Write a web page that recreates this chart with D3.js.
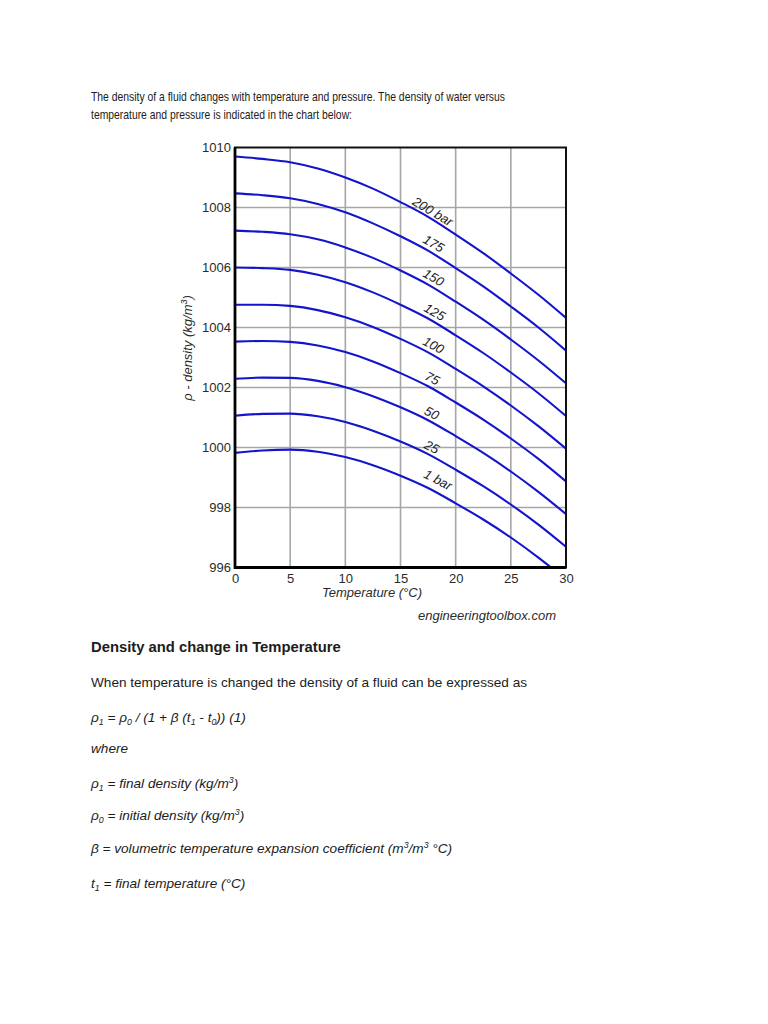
<!DOCTYPE html>
<html>
<head>
<meta charset="utf-8">
<script src="https://cdn.jsdelivr.net/npm/d3@7"></script>
<style>
  html, body { margin: 0; padding: 0; background: #fff; }
  svg { display: block; }
</style>
</head>
<body>
<svg id="page" width="768" height="1024"></svg>
<script>
// ---------- data ----------
const temps = [0, 2.5, 5, 7.5, 10, 12.5, 15, 17.5, 20, 22.5, 25, 27.5, 30];
const rho200 = [1009.70, 1009.62, 1009.51, 1009.30, 1009.00, 1008.63, 1008.18, 1007.69, 1007.10, 1006.48, 1005.80, 1005.09, 1004.32];
const rho175 = [1008.47, 1008.41, 1008.31, 1008.12, 1007.84, 1007.47, 1007.04, 1006.56, 1005.98, 1005.37, 1004.70, 1004.00, 1003.23];
const rho150 = [1007.23, 1007.19, 1007.11, 1006.94, 1006.67, 1006.32, 1005.90, 1005.43, 1004.86, 1004.26, 1003.60, 1002.90, 1002.14];
const rho125 = [1006.00, 1005.98, 1005.92, 1005.76, 1005.51, 1005.17, 1004.76, 1004.30, 1003.74, 1003.15, 1002.50, 1001.81, 1001.05];
const rho100 = [1004.76, 1004.76, 1004.72, 1004.58, 1004.34, 1004.02, 1003.62, 1003.17, 1002.62, 1002.04, 1001.40, 1000.71, 999.96];
const rho75  = [1003.53, 1003.55, 1003.52, 1003.40, 1003.18, 1002.87, 1002.48, 1002.04, 1001.50, 1000.93, 1000.30, 999.62, 998.87];
const rho50  = [1002.29, 1002.33, 1002.32, 1002.22, 1002.01, 1001.71, 1001.34, 1000.91, 1000.38, 999.82, 999.20, 998.52, 997.78];
const rho25  = [1001.06, 1001.12, 1001.13, 1001.04, 1000.85, 1000.56, 1000.20, 999.78, 999.26, 998.71, 998.10, 997.43, 996.69];
const rho1   = [999.82, 999.90, 999.93, 999.86, 999.68, 999.41, 999.06, 998.65, 998.14, 997.60, 997.00, 996.33, 995.60];
const seriesLabels = ["200 bar", "175", "150", "125", "100", "75", "50", "25", "1 bar"];
const seriesValues = [rho200, rho175, rho150, rho125, rho100, rho75, rho50, rho25, rho1];
const xTickValues = [0, 5, 10, 15, 20, 25, 30];
const yTickValues = [996, 998, 1000, 1002, 1004, 1006, 1008, 1010];

// ---------- layout ----------
const svg = d3.select("#page");
svg.append("rect").attr("width", 768).attr("height", 1024).attr("fill", "#fff");

const x = d3.scaleLinear().domain([0, 30]).range([235, 566]);
const y = d3.scaleLinear().domain([996, 1010]).range([567.5, 147.5]);
const [x0, x1] = x.range();
const [y0, y1] = [y(1010), y(996)];

const chartFont = "'Liberation Sans', Arial, Helvetica, sans-serif";
const ink = "#2b2b2b";

// grid
const grid = svg.append("g").attr("stroke", "#a6a6a6").attr("stroke-width", 1.6);
grid.selectAll("line.v").data(xTickValues.filter(d => d > 0 && d < 30)).join("line")
  .attr("x1", d => x(d)).attr("x2", d => x(d)).attr("y1", y0).attr("y2", y1);
grid.selectAll("line.h").data(yTickValues.filter(d => d > 996 && d < 1010)).join("line")
  .attr("y1", d => y(d)).attr("y2", d => y(d)).attr("x1", x0).attr("x2", x1);

// clip
svg.append("clipPath").attr("id", "plotclip").append("rect")
  .attr("x", x0).attr("y", y0).attr("width", x1 - x0).attr("height", y1 - y0);

// curves
const line = d3.line().x(d => x(d[0])).y(d => y(d[1])).curve(d3.curveMonotoneX);
svg.append("g").attr("clip-path", "url(#plotclip)")
  .selectAll("path").data(seriesValues).join("path")
  .attr("d", vals => line(temps.map((t, i) => [t, vals[i]])))
  .attr("fill", "none").attr("stroke", "#1414cc").attr("stroke-width", 2.1)
  .attr("stroke-linejoin", "round");

// frame
svg.append("rect").attr("x", x0).attr("y", y0).attr("width", x1 - x0).attr("height", y1 - y0)
  .attr("fill", "none").attr("stroke", "#111").attr("stroke-width", 2);
svg.append("path").attr("d", `M${x0},${y0}V${y1}H${x1}`).attr("fill", "none")
  .attr("stroke", "#000").attr("stroke-width", 2.8);

// axes tick labels via d3 axes
const yAxis = d3.axisLeft(y).tickValues(yTickValues).tickSize(0).tickPadding(4).tickFormat(d3.format("d"));
const gy = svg.append("g").attr("transform", `translate(${x0},0)`).call(yAxis);
const xAxis = d3.axisBottom(x).tickValues(xTickValues).tickSize(0).tickPadding(6).tickFormat(d3.format("d"));
const gx = svg.append("g").attr("transform", `translate(0,${y1})`).call(xAxis);
[gx, gy].forEach(g => {
  g.select(".domain").remove();
  g.attr("font-family", chartFont).attr("font-size", 13);
  g.selectAll("text").attr("font-family", chartFont).attr("font-size", 13).attr("fill", ink);
});

// axis titles
svg.append("text").attr("x", 372).attr("y", 597).attr("text-anchor", "middle")
  .attr("font-family", chartFont).attr("font-size", 13).attr("font-style", "italic").attr("fill", ink)
  .text("Temperature (°C)");
svg.append("text").attr("x", 487).attr("y", 620).attr("text-anchor", "middle")
  .attr("font-family", chartFont).attr("font-size", 13).attr("font-style", "italic").attr("fill", ink)
  .text("engineeringtoolbox.com");
const yt = svg.append("text").attr("transform", "translate(192,348) rotate(-90)").attr("text-anchor", "middle")
  .attr("font-family", chartFont).attr("font-size", 13).attr("font-style", "italic").attr("fill", ink);
yt.append("tspan").text("ρ - density (kg/m");
yt.append("tspan").attr("font-size", 9).attr("dy", -5).text("3");
yt.append("tspan").attr("dy", 5).text(")");

// curve labels
function valueAt(vals, t) {
  const i = Math.min(Math.max(d3.bisectRight(temps, t) - 1, 0), temps.length - 2);
  const f = (t - temps[i]) / (temps[i + 1] - temps[i]);
  return vals[i] + f * (vals[i + 1] - vals[i]);
}
const labelT = [17.6, 17.6, 17.6, 17.7, 17.6, 17.5, 17.5, 17.5, 17.9];
const labelGap = [2.5, 4.5, 4.5, 4.5, 4.5, 4.5, 3.5, 3.5, 7.5];
seriesValues.forEach((vals, k) => {
  const t = labelT[k];
  const px = x(t), py = y(valueAt(vals, t));
  const ang = Math.atan2(y(valueAt(vals, t + 1)) - y(valueAt(vals, t - 1)), x(t + 1) - x(t - 1)) * 180 / Math.PI;
  svg.append("text")
    .attr("transform", `translate(${px},${py}) rotate(${ang})`)
    .attr("x", 0).attr("y", -labelGap[k])
    .attr("text-anchor", "middle")
    .attr("font-family", chartFont).attr("font-size", 13).attr("font-style", "italic").attr("fill", "#1a1a1a")
    .text(seriesLabels[k]);
});

// ---------- page text ----------
const bodyFont = "'Liberation Sans', Arial, Helvetica, sans-serif";
const bodyInk = "#1c1c1c";
function textLine(yPos, segs, opts) {
  const t = svg.append("text").attr("x", 91).attr("y", yPos)
    .attr("font-family", bodyFont).attr("font-size", opts.size).attr("fill", bodyInk);
  if (opts.italic) t.attr("font-style", "italic");
  if (opts.bold) t.attr("font-weight", "bold");
  if (opts.len) t.attr("textLength", opts.len).attr("lengthAdjust", "spacingAndGlyphs");
  let pending = 0;
  segs.forEach(s => {
    if (typeof s === "string") {
      const ts = t.append("tspan").attr("font-size", opts.size).text(s);
      if (pending) { ts.attr("dy", pending); pending = 0; }
      return;
    }
    const shift = s.sub ? 3 : -5;
    t.append("tspan").attr("font-size", +(opts.size * 0.65).toFixed(1)).attr("dy", shift + pending).text(s.t);
    pending = -shift;
  });
  return t;
}
textLine(101, ["The density of a fluid changes with temperature and pressure. The density of water versus"], {size: 12.4, len: 414});
textLine(119, ["temperature and pressure is indicated in the chart below:"], {size: 12.4, len: 261});
textLine(652, ["Density and change in Temperature"], {size: 14.8, bold: true});
textLine(687, ["When temperature is changed the density of a fluid can be expressed as"], {size: 13.6});
textLine(722, ["ρ", {t: "1", sub: true}, " = ρ", {t: "0", sub: true}, " / (1 + β (t", {t: "1", sub: true}, " - t", {t: "0", sub: true}, ")) (1)"], {size: 13.6, italic: true});
textLine(753, ["where"], {size: 13.6, italic: true});
textLine(788, ["ρ", {t: "1", sub: true}, " = final density (kg/m", {t: "3"}, ")"], {size: 13.6, italic: true});
textLine(820, ["ρ", {t: "0", sub: true}, " = initial density (kg/m", {t: "3"}, ")"], {size: 13.6, italic: true});
textLine(853, ["β = volumetric temperature expansion coefficient (m", {t: "3"}, "/m", {t: "3"}, " °C)"], {size: 13.6, italic: true});
textLine(888, ["t", {t: "1", sub: true}, " = final temperature (°C)"], {size: 13.6, italic: true});
</script>
</body>
</html>
